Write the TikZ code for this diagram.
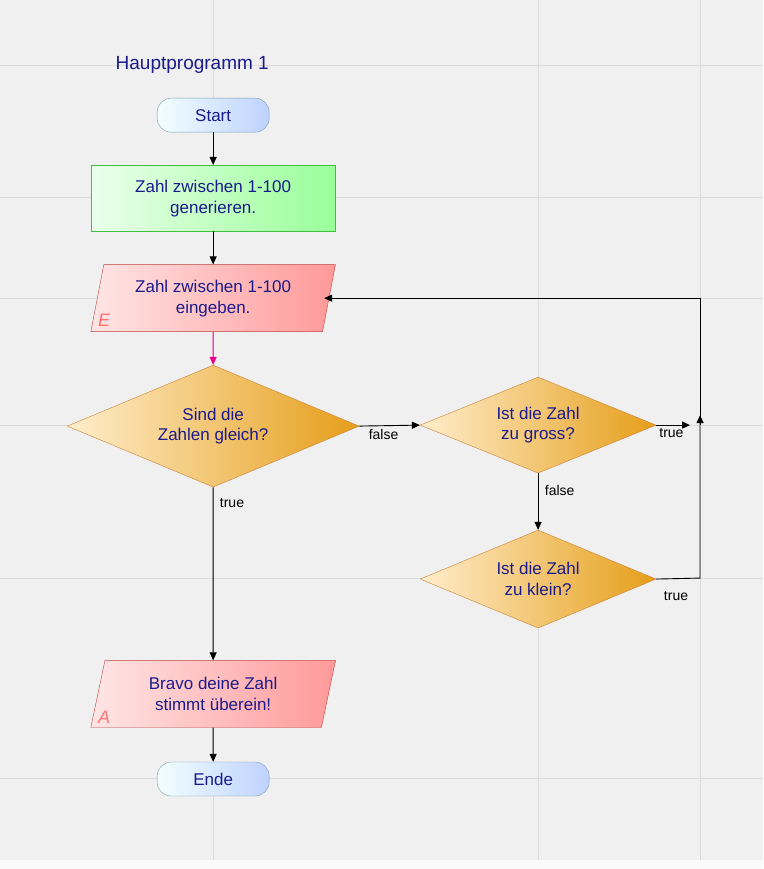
\documentclass[tikz,border=0pt]{standalone}
\usepackage{fontspec}
\setmainfont{Liberation Sans}
\usetikzlibrary{shapes.geometric,arrows.meta}
\definecolor{bg}{HTML}{F0F0F0}
\definecolor{grid}{HTML}{DADADA}
\definecolor{txt}{HTML}{1A1A8C}
\tikzset{
 every node/.style={font=\fontsize{17}{21}\selectfont, text=txt, align=center},
 pill/.style={rounded corners=14pt, draw=gray!70!cyan, left color=cyan!5, right color=cyan!30!blue!25, minimum width=112pt, minimum height=34pt, inner sep=0},
 proc/.style={draw=green!50!gray, left color=green!8, right color=green!40, minimum width=244pt, minimum height=66pt},
 io/.style={trapezium, trapezium left angle=77, trapezium right angle=103, draw=red!50!gray, left color=red!10, right color=red!40, minimum width=245pt, minimum height=67pt, inner sep=2pt, trapezium stretches=true},
 dec/.style={diamond, draw=orange!60!gray, left color=yellow!30!orange!20, right color=orange!70!yellow!80!gray, aspect=2.4, inner sep=0},
 arr/.style={-{Triangle[length=8pt,width=7pt]}, black, line width=0.9pt},
 lab/.style={font=\fontsize{14}{16}\selectfont, text=black},
 let/.style={text=red!55, font=\itshape\fontsize{18}{19}\selectfont},
}
\begin{document}
\begin{tikzpicture}[x=1pt,y=-1pt]
\fill[bg] (0,0) rectangle (763,869);
\fill[white!96!gray] (0,860) rectangle (763,869);
\foreach \x in {213,538,700} \draw[grid] (\x,0) -- (\x,860);
\foreach \y in {65,197,298,425,578,778} \draw[grid] (0,\y) -- (763,\y);
\node[font=\fontsize{19}{21}\selectfont, anchor=west] (title) at (112,65) {Hauptprogramm 1};
\node[pill] (start) at (213,115) {Start};
\node[proc] (gen) at (213,198) {Zahl zwischen 1-100\\generieren.};
\node[io] (in) at (213,298) {Zahl zwischen 1-100\\eingeben.};
\node[let] (E) at (104,320) {E};
\node[dec, minimum width=292pt, minimum height=122pt] (d1) at (213,426) {Sind die\\Zahlen gleich?};
\node[dec, minimum width=236pt, minimum height=96pt] (d2) at (538,425) {Ist die Zahl\\zu gross?};
\node[dec, minimum width=236pt, minimum height=98pt] (d3) at (538,579) {Ist die Zahl\\zu klein?};
\node[io] (out) at (213,694) {Bravo deine Zahl\\stimmt überein!};
\node[let] (A) at (104,717) {A};
\node[pill] (end) at (213,779) {Ende};
\coordinate (c1) at (700,425);
\coordinate (c2) at (700,578);
\coordinate (c3) at (700,298);
\draw[arr] (start) -- (gen);
\draw[arr] (gen) -- (in);
\draw[arr, magenta] (in) -- (d1);
\draw[arr] (d1.south) -- node[lab, pos=0.09, right=3pt]{true} (out);
\draw[arr] (out) -- (end);
\draw[arr] (d1.east) -- node[lab, below, pos=0.4]{false} (d2.west);
\draw[arr] (d2.south) -- node[lab, pos=0.3, right=3pt]{false} (d3.north);
\draw[arr] (d2.east) -- node[lab, below, pos=0.45]{true} ([xshift=-10pt]c1);
\draw[line width=0.9pt] (c1) -- (c3);
\draw[arr] (d3.east) -- (c2) -- ([yshift=10pt]c1);
\node[lab] (t3) at (676,596) {true};
\draw[arr] (c3) -- ([xshift=-5pt]in.east |- c3);
\end{tikzpicture}
\end{document}
